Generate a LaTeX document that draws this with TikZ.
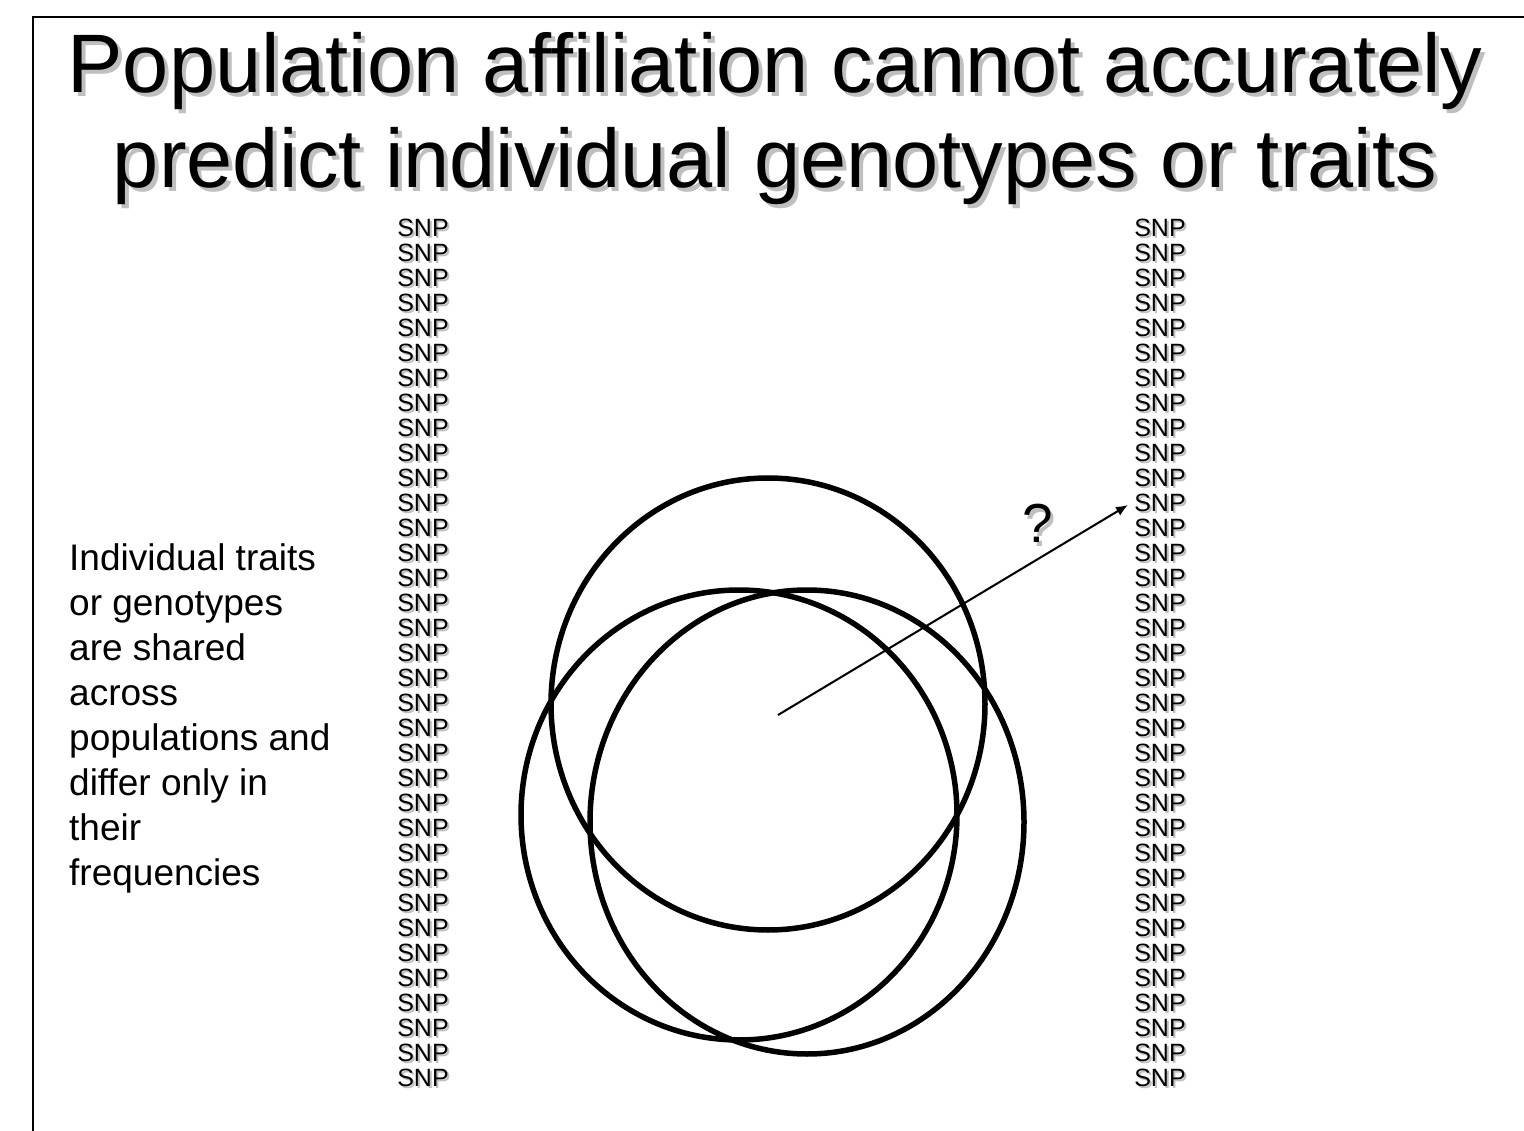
\documentclass[tikz,border=0pt]{standalone}
\usepackage{fontspec}
\usetikzlibrary{arrows.meta}
\setmainfont{Liberation Sans}
\begin{document}
\begin{tikzpicture}[x=1pt,y=-1pt,
  snp/.style={font=\fontsize{25}{25}\selectfont,inner sep=0pt},
  ttl/.style={font=\fontsize{83}{95}\selectfont,align=center,inner sep=0pt},
  circ/.style={draw,line width=5.5pt}]
\useasboundingbox (0,0) rectangle (1524,1131);
\fill[white] (0,0) rectangle (1524,1131);
\draw[line width=1.5pt] (33,1131) -- (33,17) -- (1524,17);
\node[ttl,text=black!25] (tshadow) at (779,123) {Population affiliation cannot accurately\\predict individual genotypes or traits};
\node[ttl] (title) at (775,119) {Population affiliation cannot accurately\\predict individual genotypes or traits};
\foreach \i in {0,...,34}{
  \node[snp,text=black!25] (ls\i) at (425,{230+25*\i}) {SNP};
  \node[snp] (l\i) at (423,{228+25*\i}) {SNP};
  \node[snp,text=black!25] (rs\i) at (1162,{230+25*\i}) {SNP};
  \node[snp] (r\i) at (1160,{228+25*\i}) {SNP};
}
\node[font=\fontsize{37}{45}\selectfont,align=left,anchor=north west,inner sep=0pt] (desc) at (69,543)
 {Individual traits\\or genotypes\\are shared\\across\\populations and\\differ only in\\their\\frequencies};
\draw[circ] (768,704) ellipse [x radius=217,y radius=226];
\draw[circ] (739,815) ellipse [x radius=218,y radius=225];
\draw[circ] (807,822) ellipse [x radius=217,y radius=232];
\coordinate (a0) at (778,715);
\coordinate (a1) at (1128,505);
\draw[line width=2pt,-{Latex[length=12pt,width=10pt]}] (a0) -- (a1);
\node[font=\fontsize{55}{55}\selectfont,text=black!25] (qs) at (1041,527) {?};
\node[font=\fontsize{55}{55}\selectfont] (q) at (1038,523) {?};
\end{tikzpicture}
\end{document}
